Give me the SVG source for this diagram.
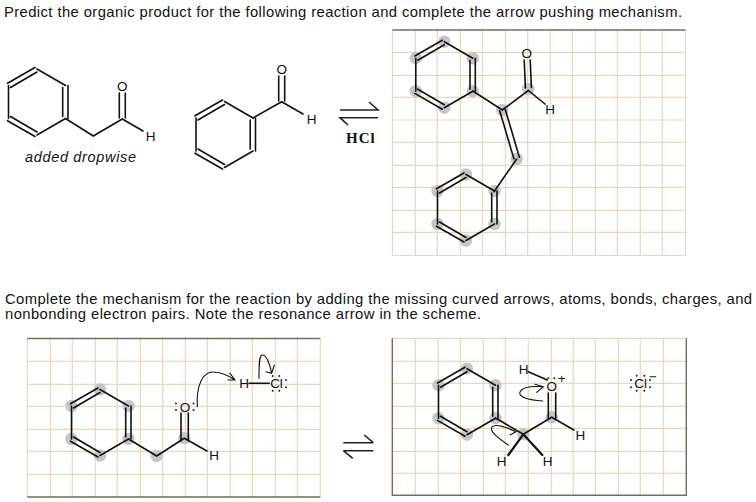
<svg xmlns="http://www.w3.org/2000/svg" width="756" height="502" viewBox="0 0 756 502">
<style>
text{font-family:"Liberation Sans",Arial,sans-serif;fill:#111}
.t{font-size:14.800px}
.a{font-size:13.500px;text-anchor:middle}
.g{stroke:#eed5b8;stroke-width:1.2;fill:none}
.d{stroke:#7a6a5c;stroke-width:1.4;fill:none}
.b{stroke:#111;stroke-width:1.6;fill:none;stroke-linecap:round}
.k{stroke:#111;stroke-width:2.2;fill:none;stroke-linecap:round}
.c{stroke:#111;stroke-width:1.100;fill:none;stroke-linecap:round}
.q{stroke:#222;stroke-width:1.6;fill:none}
.n{fill:#c6c6c6}
.e{fill:#222}
</style>
<defs>
<g id="hex">
<path class="b" d="M0-33L28.500-16.500M28.500 16.500L0 33M-28.500 16.500V-16.500M-26.500-14.500L0-30M-29.500-18.700L-2-34.500M25.700-14.500V14.500M31-16.500V16.500M0 30L-26.500 14.500M-2 34.500L-29.500 18.700"/>
</g>
<g id="dots">
<circle class="n" cx="0" cy="-33" r="6.200"/><circle class="n" cx="28.500" cy="-16.500" r="6.200"/><circle class="n" cx="28.500" cy="16.500" r="6.200"/><circle class="n" cx="0" cy="33" r="6.200"/><circle class="n" cx="-28.500" cy="16.500" r="6.200"/><circle class="n" cx="-28.500" cy="-16.500" r="6.200"/>
</g>
</defs>
<rect width="756" height="502" fill="#fff"/>
<text class="t" x="4" y="17" textLength="678" lengthAdjust="spacing">Predict the organic product for the following reaction and complete the arrow pushing mechanism.</text>
<text class="t" x="5" y="304" textLength="747" lengthAdjust="spacing">Complete the mechanism for the reaction by adding the missing curved arrows, atoms, bonds, charges, and</text>
<text class="t" x="5" y="319" textLength="476" lengthAdjust="spacing">nonbonding electron pairs. Note the resonance arrow in the scheme.</text>

<g id="grid-top">
<path class="g" d="M392.500 30V255.500M415.300 30V255.500M437.300 30V255.500M460.300 30V255.500M482.300 30V255.500M505.500 30V255.500M527.700 30V255.500M550.300 30V255.500M572.300 30V255.500M595.300 30V255.500M617.300 30V255.500M640.300 30V255.500M662.300 30V255.500M685.500 30V255.500M392.500 52.300H685.500M392.500 75.300H685.500M392.500 97.300H685.500M392.500 120H685.500M392.500 142.300H685.500M392.500 165.300H685.500M392.500 187.300H685.500M392.500 210.300H685.500M392.500 232.300H685.500M392.500 255.500H685.500"/>
<path class="d" d="M392.500 30H685.500"/>
</g>
<g id="grid-left">
<path class="g" d="M27.300 338.500V497M50.300 338.500V497M72.300 338.500V497M95.300 338.500V497M117.300 338.500V497M140.300 338.500V497M162.700 338.500V497M185.300 338.500V497M207.300 338.500V497M230.300 338.500V497M252.300 338.500V497M275.300 338.500V497M297.300 338.500V497M320.300 338.500V497M27.300 361.300H320.300M27.300 384.300H320.300M27.300 406.300H320.300M27.300 429.300H320.300M27.300 451.300H320.300M27.300 474.300H320.300"/>
<path class="d" d="M27.300 338.500H320.300M27.300 497H320.300"/>
</g>
<g id="grid-right">
<path class="g" d="M415.300 338.300V495.300M438.300 338.300V495.300M460.300 338.300V495.300M483.300 338.300V495.300M505.300 338.300V495.300M528.300 338.300V495.300M551.300 338.300V495.300M573.300 338.300V495.300M595.300 338.300V495.300M618.300 338.300V495.300M640.300 338.300V495.300M663.300 338.300V495.300M392.300 338.300H686.300M392.300 361.300H686.300M392.300 383.300H686.300M392.300 406.300H686.300M392.300 428.300H686.300M392.300 451.300H686.300M392.300 473.300H686.300"/>
<path class="d" d="M392.300 338.300V495.300H686.300V338.300"/>
</g>

<g id="phenylacetaldehyde">
<use href="#hex" transform="translate(37 102)"/>
<path class="b" d="M65.500 118.500L93.300 136L122.300 119L143 131M119.300 118V93M125.300 118V93"/>
<text class="a" x="122.300" y="91">O</text>
<text class="a" x="150.500" y="140.500">H</text>
<text x="25" y="162" font-size="14.500" font-style="italic" textLength="111">added dropwise</text>
</g>
<g id="benzaldehyde">
<use href="#hex" transform="translate(224.500 134.500)"/>
<path class="b" d="M253 118L281.700 101.700L303 114M278.700 101V76M284.700 101V76"/>
<text class="a" x="281.700" y="74">O</text>
<text class="a" x="311.500" y="124">H</text>
</g>
<g id="reagent">
<path class="q" d="M340 110H378L369 102M378 117.700H340L348 125"/>
<text x="346" y="143" font-size="15" font-weight="bold" letter-spacing="1" style="font-family:'Liberation Serif',serif">HCl</text>
</g>

<g id="product">
<use href="#dots" transform="translate(444.300 74.700)"/>
<use href="#dots" transform="translate(466 207.500)"/>
<circle class="n" cx="502.300" cy="110" r="6.200"/><circle class="n" cx="528.300" cy="89" r="6.200"/><circle class="n" cx="516.700" cy="159" r="6.200"/>
<use href="#hex" transform="translate(444.300 74.700)"/>
<use href="#hex" transform="translate(466 207.500)"/>
<path class="b" d="M472.800 91L502.300 110L528.300 90.500L545 104M525.400 88L524.200 60M531.400 87.500L530.200 60M499.700 110.800L513.900 158.800M505.200 109.200L519.400 157.200M516.700 159L494 191.700"/>
<text class="a" x="526.700" y="58">O</text>
<text class="a" x="550" y="114">H</text>
</g>

<g id="reactant-mechanism">
<use href="#dots" transform="translate(100 422.500)"/>
<circle class="n" cx="156.700" cy="456" r="6.200"/><circle class="n" cx="184.300" cy="438.300" r="6.200"/>
<use href="#hex" transform="translate(100 422.500)"/>
<path class="b" d="M128.500 439L156.700 456L184.300 438.300L207 451M181 441V413M188.300 441V413"/>
<text class="a" x="185" y="411.500">O</text>
<g class="e"><circle cx="176" cy="403.500" r="1"/><circle cx="176" cy="410" r="1"/><circle cx="193.500" cy="403.500" r="1"/><circle cx="193.500" cy="410" r="1"/></g>
<text class="a" x="214" y="460">H</text>
</g>
<g id="hcl">
<text class="a" x="244" y="388">H</text>
<path class="b" d="M249 383.300H269.300"/>
<text class="a" x="276.500" y="388">Cl</text>
<g class="e"><circle cx="272.700" cy="376" r="1"/><circle cx="279.300" cy="376" r="1"/><circle cx="272.700" cy="390.700" r="1"/><circle cx="279.300" cy="390.700" r="1"/><circle cx="286" cy="380" r="1"/><circle cx="286" cy="387.300" r="1"/></g>
</g>

<g id="intermediate">
<use href="#dots" transform="translate(467 401.700)"/>
<circle class="n" cx="523.300" cy="434.300" r="6.200"/><circle class="n" cx="551.700" cy="417.300" r="6.200"/>
<use href="#hex" transform="translate(467 401.700)"/>
<path class="b" d="M495.500 418L523.300 434.300L551.700 417.300L574 430M548.300 418V393M555.700 418V393M528.300 371.700L547.300 380"/>
<path class="k" d="M523.300 434.300L508.300 455M523.300 434.300L542.300 455"/>
<text class="a" x="523.700" y="373.500">H</text>
<text class="a" x="551.700" y="391">O</text>
<g class="e"><circle cx="548.300" cy="378.300" r="1"/><circle cx="554.300" cy="378.300" r="1"/></g>
<text class="a" x="561.700" y="382.500" font-size="11">+</text>
<text class="a" x="580.300" y="440">H</text>
<text class="a" x="501.700" y="466">H</text>
<text class="a" x="547.700" y="466">H</text>
</g>
<g id="chloride">
<text class="a" x="640.700" y="388">Cl</text>
<g class="e"><circle cx="636.700" cy="375.700" r="1"/><circle cx="644.300" cy="375.700" r="1"/><circle cx="636.700" cy="390.700" r="1"/><circle cx="644.300" cy="390.700" r="1"/><circle cx="631" cy="380" r="1"/><circle cx="631" cy="387.300" r="1"/><circle cx="650" cy="380" r="1"/><circle cx="650" cy="387.300" r="1"/></g>
<path class="c" d="M650 376.700H655.700"/>
</g>

<g id="connectors">
<path class="c" d="M197.300 406.700C196 385 203 372 213 372C222 372 229 376 235 380M230 373.300L235 380L228 380"/>
<path class="c" d="M259 378.300C259 365 259 356 262 355C266 354 270 364 271.700 373.300M266 371.700L271.700 373.300L274.300 365"/>
<path class="c" d="M542.700 401C528 400 518 397 520 392C522 387 533 386 543.300 386.700M535 384.300L543.300 386.700L536.700 392.300"/>
<path class="c" d="M508.300 445C498 438 489 431 492 427C496 423 508 428 516 431.700M506.700 427.700L516 431.700L510 435"/>
<path class="q" d="M373.300 442.700H343.300M373.300 442.700L364.300 435M343.300 450.700H373.300M343.300 450.700L352.700 458.300" id="equilibrium"/>
</g>
</svg>
